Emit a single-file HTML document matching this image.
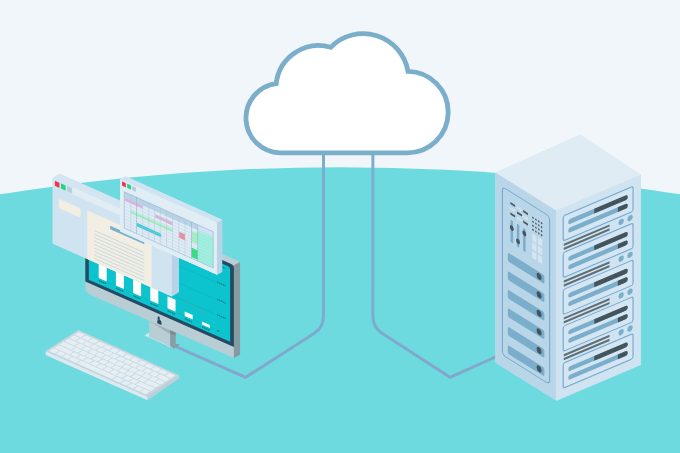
<!DOCTYPE html>
<html>
<head>
<meta charset="utf-8">
<title>Cloud network illustration</title>
<style>
html,body{margin:0;padding:0;background:#F1F6FA;font-family:"Liberation Sans",sans-serif;}
body{width:680px;height:453px;overflow:hidden;}
svg{display:block;}
</style>
</head>
<body>
<svg width="680" height="453" viewBox="0 0 680 453">
<defs>
  <linearGradient id="cab" x1="0" y1="150" x2="0" y2="380" gradientUnits="userSpaceOnUse">
    <stop offset="0" stop-color="#7AAECD"/>
    <stop offset="0.6" stop-color="#7AAECD"/>
    <stop offset="1" stop-color="#83A6CC"/>
  </linearGradient>
</defs>
<rect x="0" y="0" width="680" height="453" fill="#F1F6FA"/>
<circle cx="340" cy="2313.2" r="2146" fill="#6DDAE0"/>
<g fill="none" stroke="url(#cab)" stroke-width="3" stroke-linejoin="round">
  <path d="M323.5 153 L323.5 316 Q323.5 327.5 314 333.5 L245.6 377.3 L176 346.6"/>
  <path d="M372.9 153 L372.9 316 Q372.9 327.5 382.4 333.5 L450 377.3 L500 355"/>
</g>
<path d="M280 152.8 A34.75 34.75 0 0 1 276.2 83.6 A42.8 42.8 0 0 1 330.75 47.2 A45.5 45.5 0 0 1 408 71.4 A40.7 40.7 0 0 1 407 152.8 Z" fill="#FFFFFF" stroke="#7AAECB" stroke-width="4.8" stroke-linejoin="miter"/>

<g id="server">
<polygon points="580.00,134.80 640.60,174.70 640.60,364.80 556.25,400.60 495.50,362.60 495.50,172.50" fill="#D0E3F0"/>
<polygon points="495.50,172.50 556.25,210.50 556.25,400.60 495.50,362.60" fill="#B9D5E8"/>
<polygon points="556.25,210.50 640.60,174.70 640.60,364.80 556.25,400.60" fill="#D0E3F0" stroke="#D0E3F0" stroke-width="0.5"/>
<polygon points="580.00,134.80 640.60,174.70 556.25,210.50 495.50,172.50" fill="#DFECF4"/>
<g transform="matrix(1,0.6255,0,1,495.50,172.50)">
<rect x="6.9" y="10" width="47.2" height="168" rx="3.4" fill="none" stroke="#74ABD0" stroke-width="1.1"/>
<rect x="14.9" y="20.3" width="4.7" height="2" fill="#44545C"/>
<rect x="21.5" y="20.3" width="5.0" height="2" fill="#D5E5F0"/>
<rect x="27.6" y="20.3" width="4.9" height="2" fill="#44545C"/>
<rect x="14.9" y="25.5" width="4.7" height="2" fill="#D5E5F0"/>
<rect x="21.5" y="25.5" width="5.0" height="2" fill="#44545C"/>
<rect x="27.6" y="25.5" width="4.9" height="2" fill="#D5E5F0"/>
<rect x="14.9" y="30.8" width="4.7" height="2" fill="#44545C"/>
<rect x="21.5" y="30.8" width="5.0" height="2" fill="#D5E5F0"/>
<rect x="27.6" y="30.8" width="4.9" height="2" fill="#44545C"/>
<g fill="#7AAECB"><rect x="15" y="37.7" width="2.6" height="22.5" rx="1.2"/><rect x="21.3" y="37.7" width="2.5" height="23" rx="1.2"/><rect x="27.6" y="38" width="2.5" height="23" rx="1.2"/></g>
<g fill="#44545C"><ellipse cx="16.3" cy="45.4" rx="1.9" ry="2.6"/><ellipse cx="22.5" cy="54.8" rx="1.9" ry="2.6"/><ellipse cx="28.8" cy="42.9" rx="1.9" ry="2.6"/>
<ellipse cx="37.4" cy="21.9" rx="0.8" ry="0.95"/>
<ellipse cx="37.4" cy="25.9" rx="0.8" ry="0.95"/>
<ellipse cx="37.4" cy="29.9" rx="0.8" ry="0.95"/>
<ellipse cx="37.4" cy="33.9" rx="0.8" ry="0.95"/>
<ellipse cx="40.4" cy="21.9" rx="0.8" ry="0.95"/>
<ellipse cx="40.4" cy="25.9" rx="0.8" ry="0.95"/>
<ellipse cx="40.4" cy="29.9" rx="0.8" ry="0.95"/>
<ellipse cx="40.4" cy="33.9" rx="0.8" ry="0.95"/>
<ellipse cx="43.3" cy="21.9" rx="0.8" ry="0.95"/>
<ellipse cx="43.3" cy="25.9" rx="0.8" ry="0.95"/>
<ellipse cx="43.3" cy="29.9" rx="0.8" ry="0.95"/>
<ellipse cx="43.3" cy="33.9" rx="0.8" ry="0.95"/>
<ellipse cx="46.1" cy="21.9" rx="0.8" ry="0.95"/>
<ellipse cx="46.1" cy="25.9" rx="0.8" ry="0.95"/>
<ellipse cx="46.1" cy="29.9" rx="0.8" ry="0.95"/>
<ellipse cx="46.1" cy="33.9" rx="0.8" ry="0.95"/>
</g>
<g fill="#D5E5F0">
<rect x="36.7" y="38.1" width="4.2" height="6.9"/>
<rect x="42.5" y="38.1" width="4.2" height="6.9"/>
<rect x="36.7" y="46.7" width="4.2" height="6.9"/>
<rect x="42.5" y="46.7" width="4.2" height="6.9"/>
<rect x="36.7" y="55.3" width="4.2" height="6.9"/>
<rect x="42.5" y="55.3" width="4.2" height="6.9"/>
</g>
<rect x="12.3" y="72.2" width="36.6" height="8.8" rx="1.6" fill="#7AAECB"/><ellipse cx="43.6" cy="76.6" rx="2.5" ry="3.2" fill="#44545C"/>
<rect x="12.3" y="90.7" width="36.6" height="8.8" rx="1.6" fill="#7AAECB"/><ellipse cx="43.6" cy="95.1" rx="2.5" ry="3.2" fill="#44545C"/>
<rect x="12.3" y="109.2" width="36.6" height="8.8" rx="1.6" fill="#7AAECB"/><ellipse cx="43.6" cy="113.6" rx="2.5" ry="3.2" fill="#44545C"/>
<rect x="12.3" y="127.7" width="36.6" height="8.8" rx="1.6" fill="#7AAECB"/><ellipse cx="43.6" cy="132.1" rx="2.5" ry="3.2" fill="#44545C"/>
<rect x="12.3" y="146.2" width="36.6" height="8.8" rx="1.6" fill="#7AAECB"/><ellipse cx="43.6" cy="150.6" rx="2.5" ry="3.2" fill="#44545C"/>
<rect x="12.3" y="164.7" width="36.6" height="8.8" rx="1.6" fill="#7AAECB"/><ellipse cx="43.6" cy="169.1" rx="2.5" ry="3.2" fill="#44545C"/>
</g>
<g transform="matrix(1,-0.4244,0,1,556.25,210.50)">
<rect x="7" y="8.4" width="69.8" height="25" rx="1.9" fill="#D5E6F2" stroke="#74ABD0" stroke-width="1.15"/>
<rect x="12" y="14.4" width="59.5" height="4.8" rx="2.2" fill="#7AAECB"/>
<path d="M38.0 14.4 H69.3 A2.2 2.4 0 0 1 69.3 19.2 H38.0 Z" fill="#44545C"/>
<rect x="12" y="22.9" width="59.5" height="4.8" rx="2.2" fill="#7AAECB"/>
<path d="M61.6 22.9 H69.3 A2.2 2.4 0 0 1 69.3 27.7 H61.6 Z" fill="#44545C"/>
<rect x="7.5" y="36.5" width="45.8" height="2.2" fill="#5E6E75"/><rect x="7.5" y="40.4" width="45.8" height="2.2" fill="#5E6E75"/>
<ellipse cx="64.9" cy="38.9" rx="2.7" ry="2.9" fill="#7AAECB"/><ellipse cx="73.8" cy="38.9" rx="2.7" ry="2.9" fill="#7AAECB"/>
<rect x="7" y="45.2" width="69.8" height="25" rx="1.9" fill="#D5E6F2" stroke="#74ABD0" stroke-width="1.15"/>
<rect x="12" y="51.2" width="59.5" height="4.8" rx="2.2" fill="#7AAECB"/>
<path d="M38.0 51.2 H69.3 A2.2 2.4 0 0 1 69.3 56.0 H38.0 Z" fill="#44545C"/>
<rect x="12" y="59.7" width="59.5" height="4.8" rx="2.2" fill="#7AAECB"/>
<path d="M61.6 59.7 H69.3 A2.2 2.4 0 0 1 69.3 64.5 H61.6 Z" fill="#44545C"/>
<rect x="7.5" y="73.3" width="45.8" height="2.2" fill="#5E6E75"/><rect x="7.5" y="77.2" width="45.8" height="2.2" fill="#5E6E75"/>
<ellipse cx="64.9" cy="75.7" rx="2.7" ry="2.9" fill="#7AAECB"/><ellipse cx="73.8" cy="75.7" rx="2.7" ry="2.9" fill="#7AAECB"/>
<rect x="7" y="82.0" width="69.8" height="25" rx="1.9" fill="#D5E6F2" stroke="#74ABD0" stroke-width="1.15"/>
<rect x="12" y="88.0" width="59.5" height="4.8" rx="2.2" fill="#7AAECB"/>
<path d="M38.0 88.0 H69.3 A2.2 2.4 0 0 1 69.3 92.8 H38.0 Z" fill="#44545C"/>
<rect x="12" y="96.5" width="59.5" height="4.8" rx="2.2" fill="#7AAECB"/>
<path d="M61.6 96.5 H69.3 A2.2 2.4 0 0 1 69.3 101.3 H61.6 Z" fill="#44545C"/>
<rect x="7.5" y="110.1" width="45.8" height="2.2" fill="#5E6E75"/><rect x="7.5" y="114.0" width="45.8" height="2.2" fill="#5E6E75"/>
<ellipse cx="64.9" cy="112.5" rx="2.7" ry="2.9" fill="#7AAECB"/><ellipse cx="73.8" cy="112.5" rx="2.7" ry="2.9" fill="#7AAECB"/>
<rect x="7" y="118.8" width="69.8" height="25" rx="1.9" fill="#D5E6F2" stroke="#74ABD0" stroke-width="1.15"/>
<rect x="12" y="124.8" width="59.5" height="4.8" rx="2.2" fill="#7AAECB"/>
<path d="M38.0 124.8 H69.3 A2.2 2.4 0 0 1 69.3 129.6 H38.0 Z" fill="#44545C"/>
<rect x="12" y="133.3" width="59.5" height="4.8" rx="2.2" fill="#7AAECB"/>
<path d="M61.6 133.3 H69.3 A2.2 2.4 0 0 1 69.3 138.1 H61.6 Z" fill="#44545C"/>
<rect x="7.5" y="146.9" width="45.8" height="2.2" fill="#5E6E75"/><rect x="7.5" y="150.8" width="45.8" height="2.2" fill="#5E6E75"/>
<ellipse cx="64.9" cy="149.3" rx="2.7" ry="2.9" fill="#7AAECB"/><ellipse cx="73.8" cy="149.3" rx="2.7" ry="2.9" fill="#7AAECB"/>
<rect x="7" y="155.6" width="69.8" height="25" rx="1.9" fill="#D5E6F2" stroke="#74ABD0" stroke-width="1.15"/>
<rect x="12" y="161.6" width="59.5" height="4.8" rx="2.2" fill="#7AAECB"/>
<path d="M38.0 161.6 H69.3 A2.2 2.4 0 0 1 69.3 166.4 H38.0 Z" fill="#44545C"/>
<rect x="12" y="170.1" width="59.5" height="4.8" rx="2.2" fill="#7AAECB"/>
<path d="M61.6 170.1 H69.3 A2.2 2.4 0 0 1 69.3 174.9 H61.6 Z" fill="#44545C"/>
</g></g>
<g id="monitor">
<polygon points="145.3,334.9 149.3,332.7 149.3,336.8 170.2,346.3 173.9,348.7 145.3,335.8" fill="#DCE8ED"/>
<polygon points="170.2,346.3 175.7,343.7 180.1,344.7 173.9,348.7" fill="#8A9BA2"/>
<polygon points="149.3,318 170.2,327.5 170.2,346.3 149.3,336.8" fill="#B9CDD5"/>
<polygon points="170.2,327.5 175.7,325 175.7,343.7 170.2,346.3" fill="#8A9BA2"/>
<polygon points="229.90,265.18 240.10,261.78 240.10,354.68 233.90,358.08 229.90,356.08" fill="#879A9F"/>
<polygon points="85.30,199.80 91.50,196.40 240.10,261.78 233.90,265.18 232.70,267.38 228.90,266.18" fill="#BACED6"/>
<path d="M238.00 260.86 L240.40 261.58 L240.40 264.28 Q240.10 261.78 238.00 260.86 Z" fill="#6DDAE0" stroke="#6DDAE0" stroke-width="0.3"/>
<g transform="matrix(1,0.440,0,1,85.30,199.80)">
<path d="M0 78 H148.6 V92.9 H6 Q0 92.5 0 87.4 Z" fill="#B9CDD5"/>
<path d="M0 0 H145.4 Q148.6 0 148.6 3.2 V81.8 H0 Z" fill="#254A63"/>
<path d="M3.5 3.5 H142.8 Q144.8 3.5 144.8 5.5 V78.3 H3.5 Z" fill="#0BC4CE"/>
<g stroke="#0CB3BE" stroke-width="0.6" fill="none"><path d="M8 72.4 H128"/><path d="M88 7.6 H130 M88 24.8 H130 M88 42 H130 M88 57.4 H130"/></g>
<path d="M92 51.5 Q104 60 122.5 61.8" fill="none" stroke="#55A9B3" stroke-width="0.7"/>
<g fill="#FFFFFF">
<rect x="13.4" y="50.0" width="8" height="22.2"/>
<rect x="30.6" y="50.0" width="8" height="22.2"/>
<rect x="47.8" y="50.0" width="8" height="22.2"/>
<rect x="65.0" y="50.0" width="8" height="22.2"/>
<rect x="82.2" y="60.3" width="8" height="11.9"/>
<rect x="99.4" y="67.9" width="8" height="4.6"/>
<rect x="116.6" y="70.5" width="8" height="3.0"/>
</g><g fill="#13737F" opacity="0.85">
<path d="M13.5 74.8 h7.6" stroke="#13737F" stroke-width="1.5" stroke-dasharray="1.5 0.45" fill="none"/>
<path d="M30.7 74.8 h7.6" stroke="#13737F" stroke-width="1.5" stroke-dasharray="1.5 0.45" fill="none"/>
<path d="M47.9 74.8 h7.6" stroke="#13737F" stroke-width="1.5" stroke-dasharray="1.5 0.45" fill="none"/>
<path d="M65.1 74.8 h7.6" stroke="#13737F" stroke-width="1.5" stroke-dasharray="1.5 0.45" fill="none"/>
<path d="M82.3 74.8 h7.6" stroke="#13737F" stroke-width="1.5" stroke-dasharray="1.5 0.45" fill="none"/>
<path d="M99.5 75.1 h7.6" stroke="#13737F" stroke-width="1.5" stroke-dasharray="1.5 0.45" fill="none"/>
<path d="M116.7 75.8 h7.6" stroke="#13737F" stroke-width="1.5" stroke-dasharray="1.5 0.45" fill="none"/>
<path d="M131.6 7.1 h8.8" stroke="#13737F" stroke-width="1.3" stroke-dasharray="1.4 0.5" fill="none"/>
<path d="M131.6 24.3 h8.8" stroke="#13737F" stroke-width="1.3" stroke-dasharray="1.4 0.5" fill="none"/>
<path d="M131.6 41.5 h8.8" stroke="#13737F" stroke-width="1.3" stroke-dasharray="1.4 0.5" fill="none"/>
<path d="M131.6 56.9 h8.8" stroke="#13737F" stroke-width="1.3" stroke-dasharray="1.4 0.5" fill="none"/>
<rect x="131.6" y="72" width="2.4" height="1.4"/>
</g></g>
<polygon points="149.3,321.3 170.2,330.6 170.2,334 " fill="#9DB0B7"/>
<polygon points="170.2,330.6 175.7,333.1 175.7,335.2 170.2,334" fill="#7A8B92"/>
<path d="M158.6 316.3 q1.3 0.5 1.2 1.9 q-0.1 0.7 -0.4 1.1 q1.8 1.2 2.1 3.3 q0.2 1.5 -0.3 2.4 l-3.9 -1.7 q-0.5 -2 0.6 -3.9 q-0.5 -0.7 -0.3 -1.7 q0.2 -1 1 -1.4 z" fill="#254A63"/>
</g>
<polygon points="52.70,178.20 59.60,173.80 178.70,226.68 178.70,292.08 171.80,296.48 52.70,243.60" fill="#D0E3F0"/>
<polygon points="52.70,178.20 59.60,173.80 178.70,226.68 171.80,231.08" fill="#D3E5F1"/>
<polygon points="171.40,231.08 178.70,226.68 178.70,292.08 171.40,296.48" fill="#B9D3E6"/>
<g transform="matrix(1,0.444,0,1,52.70,178.20)">
<rect x="0" y="0" width="119.1" height="65.4" fill="#D0E3F0"/>
<rect x="0" y="0" width="19.8" height="7.4" fill="#D4E6F2"/><rect x="19.6" y="0.2" width="99.5" height="7.2" fill="#E0EDF5"/>
<rect x="2.2" y="1.5" width="4.5" height="5.2" rx="0.5" fill="#F5334F"/>
<rect x="8.2" y="1.5" width="4.7" height="5.2" rx="0.5" fill="#1FD87E"/>
<rect x="14.5" y="1.5" width="4.7" height="5.2" rx="0.5" fill="#B4CFE4"/>
<rect x="6.2" y="17.8" width="21.6" height="9.3" rx="1.6" fill="#F2EFE2"/>
</g>
<g transform="matrix(1,0.442,0,1,87.3,210.6)">
<rect x="0" y="0" width="64.2" height="48.5" fill="#F2EFE2"/>
<rect x="22.9" y="5" width="34.2" height="3.5" fill="#7AAECB"/>
<path d="M6.9 16.90 H57.1 M6.9 20.37 H57.1 M6.9 23.84 H57.1 M6.9 27.31 H57.1 M6.9 30.78 H57.1 M6.9 34.25 H57.1 M6.9 37.72 H57.1 M6.9 41.19 H57.1 M6.9 44.66 H57.1" stroke="#C2D4DF" stroke-width="0.8"/>
</g>
<polygon points="120.20,179.20 125.30,176.20 222.10,219.66 222.10,271.86 217.00,274.86 120.20,231.40" fill="#E0EDF5"/>
<polygon points="120.20,179.20 125.30,176.20 222.10,219.66 217.00,222.66" fill="#D0E3F0"/>
<polygon points="216.60,222.66 222.10,219.66 222.10,271.86 216.60,274.86" fill="#B9D3E6"/>
<g transform="matrix(1,0.449,0,1,120.20,179.20)">
<rect x="0" y="0" width="96.8" height="52.2" fill="#E0EDF5"/>
<rect x="1.8" y="1.3" width="3.9" height="4.3" rx="0.4" fill="#F5334F"/><rect x="6.9" y="1.3" width="3.9" height="4.3" rx="0.4" fill="#1FD87E"/><rect x="11.8" y="1.3" width="4" height="4.3" rx="0.4" fill="#B4CFE4"/>
<rect x="4.1" y="10.8" width="88.9" height="36.2" fill="#E0ECF5"/>
<rect x="4.1" y="10.8" width="73.4" height="5.2" fill="#B9D3E6"/>
<rect x="77.5" y="10.8" width="15.5" height="6" fill="#D0E3F0"/>
<rect x="77.5" y="16.8" width="15.5" height="30.2" fill="#9EF1DD"/>
<rect x="4.6" y="16.3" width="17.8" height="3.3" fill="#DEB4DC"/>
<rect x="34.8" y="19.5" width="17.6" height="3.2" fill="#DEB4DC"/>
<rect x="10.6" y="26.2" width="41.8" height="3.4" fill="#A5F0C0"/>
<rect x="16.6" y="36.2" width="24.4" height="3.4" fill="#3ECBD3"/>
<rect x="59" y="26.1" width="5.8" height="6" fill="#F08A9B"/>
<rect x="71.3" y="19.7" width="6.2" height="10.8" fill="#A5F0C0"/>
<rect x="71.3" y="36.4" width="6.2" height="9.4" fill="#2FE07A"/>
<g stroke="#A9C4DA" stroke-width="0.45" fill="none"><path d="M10.6 10.8 V47 M22.4 10.8 V47 M28.6 10.8 V47 M34.3 10.8 V47 M40.1 10.8 V47 M46.3 10.8 V47 M52.4 10.8 V47 M58.6 10.8 V47 M64.8 10.8 V47" opacity="0.85"/><path d="M4.1 16.0 H93 M4.1 19.1 H93 M4.1 22.2 H93 M4.1 25.3 H93 M4.1 28.4 H93 M4.1 31.5 H93 M4.1 34.6 H93 M4.1 37.7 H93 M4.1 40.8 H93 M4.1 43.9 H93" opacity="0.55"/></g>
<g stroke="#8CAFCF" stroke-width="0.5" fill="none"><path d="M16.3 10.8 V47 M71.3 10.8 V47 M77.5 10.8 V47"/><rect x="4.1" y="10.8" width="88.9" height="36.2"/></g>
</g>
<g id="kbd">
<polygon points="45.6,351.1 147.5,396.5 147.5,400.2 45.6,354.9" fill="#DDE9EF"/>
<polygon points="147.5,396.5 179,375.3 179,378.6 147.5,400.2" fill="#C0D0D7"/>
<polygon points="78.5,330.1 179,375.3 147.5,396.5 45.6,351.1" fill="#C8D6DC"/>
<g transform="matrix(1.005,0.452,-0.658,0.42,78.5,330.1)" fill="#E4EEF4">
<rect x="1.60" y="2.00" width="96.80" height="46.00" fill="#C9D7DD"/>
<rect x="2.02" y="2.55" width="6.06" height="6.56"/>
<rect x="8.94" y="2.55" width="6.06" height="6.56"/>
<rect x="15.85" y="2.55" width="6.06" height="6.56"/>
<rect x="22.77" y="2.55" width="6.06" height="6.56"/>
<rect x="29.68" y="2.55" width="6.06" height="6.56"/>
<rect x="36.60" y="2.55" width="6.06" height="6.56"/>
<rect x="43.51" y="2.55" width="6.06" height="6.56"/>
<rect x="50.42" y="2.55" width="6.06" height="6.56"/>
<rect x="57.34" y="2.55" width="6.06" height="6.56"/>
<rect x="64.25" y="2.55" width="6.06" height="6.56"/>
<rect x="71.17" y="2.55" width="6.06" height="6.56"/>
<rect x="78.08" y="2.55" width="6.06" height="6.56"/>
<rect x="85.00" y="2.55" width="6.06" height="6.56"/>
<rect x="91.91" y="2.55" width="6.06" height="6.56"/>
<rect x="2.02" y="10.22" width="5.78" height="6.56"/>
<rect x="8.66" y="10.22" width="5.78" height="6.56"/>
<rect x="15.29" y="10.22" width="5.78" height="6.56"/>
<rect x="21.92" y="10.22" width="5.78" height="6.56"/>
<rect x="28.55" y="10.22" width="5.78" height="6.56"/>
<rect x="35.18" y="10.22" width="5.78" height="6.56"/>
<rect x="41.81" y="10.22" width="5.78" height="6.56"/>
<rect x="48.44" y="10.22" width="5.78" height="6.56"/>
<rect x="55.07" y="10.22" width="5.78" height="6.56"/>
<rect x="61.70" y="10.22" width="5.78" height="6.56"/>
<rect x="68.33" y="10.22" width="5.78" height="6.56"/>
<rect x="74.96" y="10.22" width="5.78" height="6.56"/>
<rect x="81.59" y="10.22" width="5.78" height="6.56"/>
<rect x="88.22" y="10.22" width="9.76" height="6.56"/>
<rect x="2.02" y="17.89" width="9.76" height="6.56"/>
<rect x="12.63" y="17.89" width="5.78" height="6.56"/>
<rect x="19.26" y="17.89" width="5.78" height="6.56"/>
<rect x="25.89" y="17.89" width="5.78" height="6.56"/>
<rect x="32.52" y="17.89" width="5.78" height="6.56"/>
<rect x="39.15" y="17.89" width="5.78" height="6.56"/>
<rect x="45.78" y="17.89" width="5.78" height="6.56"/>
<rect x="52.41" y="17.89" width="5.78" height="6.56"/>
<rect x="59.04" y="17.89" width="5.78" height="6.56"/>
<rect x="65.67" y="17.89" width="5.78" height="6.56"/>
<rect x="72.30" y="17.89" width="5.78" height="6.56"/>
<rect x="78.93" y="17.89" width="5.78" height="6.56"/>
<rect x="85.56" y="17.89" width="5.78" height="6.56"/>
<rect x="92.19" y="17.89" width="5.78" height="6.56"/>
<rect x="2.02" y="25.55" width="11.58" height="6.56"/>
<rect x="14.45" y="25.55" width="5.69" height="6.56"/>
<rect x="20.99" y="25.55" width="5.69" height="6.56"/>
<rect x="27.53" y="25.55" width="5.69" height="6.56"/>
<rect x="34.07" y="25.55" width="5.69" height="6.56"/>
<rect x="40.61" y="25.55" width="5.69" height="6.56"/>
<rect x="47.15" y="25.55" width="5.69" height="6.56"/>
<rect x="53.70" y="25.55" width="5.69" height="6.56"/>
<rect x="60.24" y="25.55" width="5.69" height="6.56"/>
<rect x="66.78" y="25.55" width="5.69" height="6.56"/>
<rect x="73.32" y="25.55" width="5.69" height="6.56"/>
<rect x="79.86" y="25.55" width="5.69" height="6.56"/>
<rect x="86.40" y="25.55" width="11.58" height="6.56"/>
<rect x="2.02" y="33.22" width="14.85" height="6.56"/>
<rect x="17.72" y="33.22" width="5.69" height="6.56"/>
<rect x="24.26" y="33.22" width="5.69" height="6.56"/>
<rect x="30.80" y="33.22" width="5.69" height="6.56"/>
<rect x="37.34" y="33.22" width="5.69" height="6.56"/>
<rect x="43.88" y="33.22" width="5.69" height="6.56"/>
<rect x="50.42" y="33.22" width="5.69" height="6.56"/>
<rect x="56.97" y="33.22" width="5.69" height="6.56"/>
<rect x="63.51" y="33.22" width="5.69" height="6.56"/>
<rect x="70.05" y="33.22" width="5.69" height="6.56"/>
<rect x="76.59" y="33.22" width="5.69" height="6.56"/>
<rect x="83.13" y="33.22" width="14.85" height="6.56"/>
<rect x="2.02" y="40.89" width="5.52" height="6.56"/>
<rect x="8.39" y="40.89" width="5.52" height="6.56"/>
<rect x="14.76" y="40.89" width="5.52" height="6.56"/>
<rect x="21.13" y="40.89" width="7.43" height="6.56"/>
<rect x="29.41" y="40.89" width="34.81" height="6.56"/>
<rect x="65.07" y="40.89" width="7.43" height="6.56"/>
<rect x="73.35" y="40.89" width="5.52" height="6.56"/>
<rect x="79.72" y="40.89" width="5.52" height="6.56"/>
<rect x="86.09" y="40.89" width="5.52" height="6.56"/>
<rect x="92.46" y="40.89" width="5.52" height="6.56"/>
</g></g>
</svg>
</body>
</html>
